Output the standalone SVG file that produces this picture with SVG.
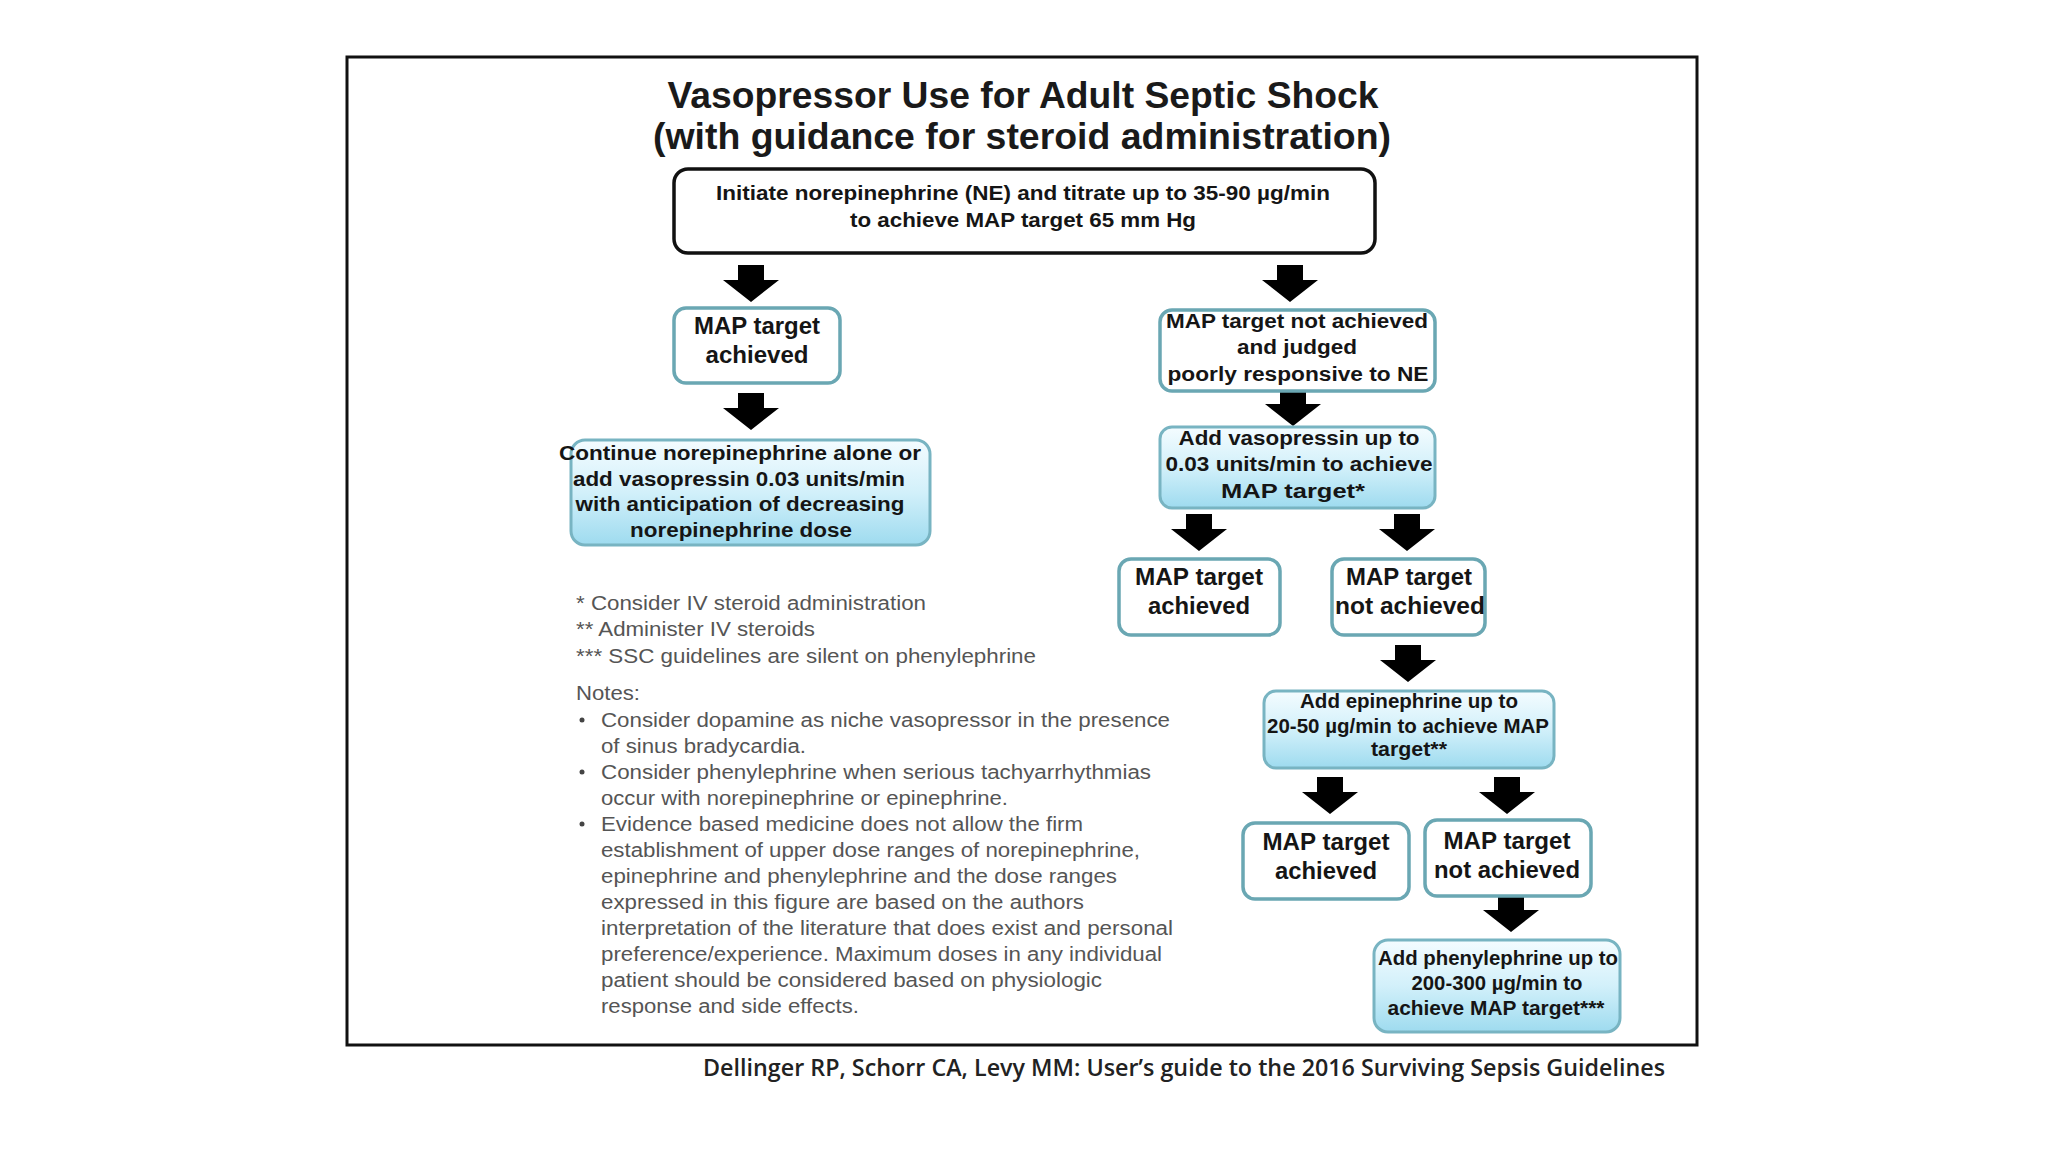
<svg xmlns="http://www.w3.org/2000/svg" xmlns:xlink="http://www.w3.org/1999/xlink" width="2048" height="1152" viewBox="0 0 2048 1152">
<defs>
<linearGradient id="blue" x1="0" y1="0" x2="0" y2="1">
<stop offset="0" stop-color="#f4fcff"/>
<stop offset="0.5" stop-color="#d2f0fa"/>
<stop offset="1" stop-color="#9edbef"/>
</linearGradient>
<path id="arrow" d="M-13,0 H13 V15 H28 L0,37 L-28,15 H-13 Z" fill="#000"/>
</defs>
<style>
.bx{fill:#fff;stroke:#6aa7b3;stroke-width:3.5}
.bb{fill:url(#blue);stroke:#78b4c2;stroke-width:3}
.t{font-family:"Liberation Sans",Arial,sans-serif;font-weight:bold;fill:#151515;text-anchor:middle}
.m{font-size:24px}
.s{font-size:20px}
.n{font-family:"Liberation Sans",Arial,sans-serif;font-size:20px;fill:#555}
.ti{font-family:"Liberation Sans",Arial,sans-serif;font-weight:bold;font-size:37px;fill:#1a1a1a;text-anchor:middle}
</style>
<rect width="2048" height="1152" fill="#fff"/>
<rect x="347" y="57" width="1350" height="988" fill="none" stroke="#111" stroke-width="3"/>

<g id="title">
<text class="ti" x="1023" y="108" textLength="711" lengthAdjust="spacingAndGlyphs">Vasopressor Use for Adult Septic Shock</text>
<text class="ti" x="1022" y="149" textLength="738" lengthAdjust="spacingAndGlyphs">(with guidance for steroid administration)</text>
</g>

<g id="connectors">
<use xlink:href="#arrow" x="751" y="265"/>
<use xlink:href="#arrow" x="751" y="393"/>
<use xlink:href="#arrow" x="1290" y="265"/>
<use xlink:href="#arrow" x="1293" y="389"/>
<use xlink:href="#arrow" x="1199" y="514"/>
<use xlink:href="#arrow" x="1407" y="514"/>
<use xlink:href="#arrow" x="1408" y="645"/>
<use xlink:href="#arrow" x="1330" y="777"/>
<use xlink:href="#arrow" x="1507" y="777"/>
<use xlink:href="#arrow" x="1511" y="895"/>
</g>

<g id="start">
<rect x="674" y="169" width="701" height="84" rx="14" fill="#fff" stroke="#111" stroke-width="3.5"/>
<text class="t s" x="1023" y="200" textLength="614" lengthAdjust="spacingAndGlyphs">Initiate norepinephrine (NE) and titrate up to 35-90 µg/min</text>
<text class="t s" x="1023" y="227" textLength="346" lengthAdjust="spacingAndGlyphs">to achieve MAP target 65 mm Hg</text>
</g>

<g id="map-achieved-1">
<rect class="bx" x="674" y="308" width="166" height="75" rx="12"/>
<text class="t m" x="757" y="334" textLength="126" lengthAdjust="spacingAndGlyphs">MAP target</text>
<text class="t m" x="757" y="363" textLength="103" lengthAdjust="spacingAndGlyphs">achieved</text>
</g>

<g id="continue-ne">
<rect class="bb" x="571" y="440" width="359" height="105" rx="14"/>
<text class="t s" x="740" y="460" textLength="362" lengthAdjust="spacingAndGlyphs">Continue norepinephrine alone or</text>
<text class="t s" x="739" y="486" textLength="332" lengthAdjust="spacingAndGlyphs">add vasopressin 0.03 units/min</text>
<text class="t s" x="740" y="511" textLength="329" lengthAdjust="spacingAndGlyphs">with anticipation of decreasing</text>
<text class="t s" x="741" y="537" textLength="222" lengthAdjust="spacingAndGlyphs">norepinephrine dose</text>
</g>

<g id="map-not-achieved-ne">
<rect class="bx" x="1160" y="310" width="275" height="81" rx="12"/>
<text class="t s" x="1297" y="328" textLength="262" lengthAdjust="spacingAndGlyphs">MAP target not achieved</text>
<text class="t s" x="1297" y="354" textLength="120" lengthAdjust="spacingAndGlyphs">and judged</text>
<text class="t s" x="1298" y="381" textLength="261" lengthAdjust="spacingAndGlyphs">poorly responsive to NE</text>
</g>

<g id="add-vasopressin">
<rect class="bb" x="1160" y="427" width="275" height="81" rx="12"/>
<text class="t s" x="1299" y="445" textLength="241" lengthAdjust="spacingAndGlyphs">Add vasopressin up to</text>
<text class="t s" x="1299" y="471" textLength="267" lengthAdjust="spacingAndGlyphs">0.03 units/min to achieve</text>
<text class="t s" x="1293" y="498" textLength="144" lengthAdjust="spacingAndGlyphs">MAP target*</text>
</g>

<g id="map-achieved-2">
<rect class="bx" x="1119" y="559" width="161" height="76" rx="12"/>
<text class="t m" x="1199" y="585" textLength="128" lengthAdjust="spacingAndGlyphs">MAP target</text>
<text class="t m" x="1199" y="614" textLength="102" lengthAdjust="spacingAndGlyphs">achieved</text>
</g>

<g id="map-not-achieved-2">
<rect class="bx" x="1332" y="559" width="153" height="76" rx="12"/>
<text class="t m" x="1409" y="585" textLength="126" lengthAdjust="spacingAndGlyphs">MAP target</text>
<text class="t m" x="1410" y="614" textLength="150" lengthAdjust="spacingAndGlyphs">not achieved</text>
</g>

<g id="add-epinephrine">
<rect class="bb" x="1264" y="691" width="290" height="77" rx="12"/>
<text class="t s" x="1409" y="708" textLength="218" lengthAdjust="spacingAndGlyphs">Add epinephrine up to</text>
<text class="t s" x="1408" y="733" textLength="282" lengthAdjust="spacingAndGlyphs">20-50 µg/min to achieve MAP</text>
<text class="t s" x="1409" y="756" textLength="76" lengthAdjust="spacingAndGlyphs">target**</text>
</g>

<g id="map-achieved-3">
<rect class="bx" x="1243" y="823" width="166" height="76" rx="12"/>
<text class="t m" x="1326" y="850" textLength="127" lengthAdjust="spacingAndGlyphs">MAP target</text>
<text class="t m" x="1326" y="879" textLength="102" lengthAdjust="spacingAndGlyphs">achieved</text>
</g>

<g id="map-not-achieved-3">
<rect class="bx" x="1425" y="820" width="166" height="76" rx="12"/>
<text class="t m" x="1507" y="849" textLength="127" lengthAdjust="spacingAndGlyphs">MAP target</text>
<text class="t m" x="1507" y="878" textLength="146" lengthAdjust="spacingAndGlyphs">not achieved</text>
</g>

<g id="add-phenylephrine">
<rect class="bb" x="1374" y="940" width="246" height="92" rx="14"/>
<text class="t s" x="1498" y="965" textLength="240" lengthAdjust="spacingAndGlyphs">Add phenylephrine up to</text>
<text class="t s" x="1497" y="990" textLength="171" lengthAdjust="spacingAndGlyphs">200-300 µg/min to</text>
<text class="t s" x="1496" y="1015" textLength="217" lengthAdjust="spacingAndGlyphs">achieve MAP target***</text>
</g>

<g id="footnotes">
<text class="n" x="576" y="610" textLength="350" lengthAdjust="spacingAndGlyphs">* Consider IV steroid administration</text>
<text class="n" x="576" y="636" textLength="239" lengthAdjust="spacingAndGlyphs">** Administer IV steroids</text>
<text class="n" x="576" y="663" textLength="460" lengthAdjust="spacingAndGlyphs">*** SSC guidelines are silent on phenylephrine</text>
</g>

<g id="notes">
<text class="n" x="576" y="700" textLength="64" lengthAdjust="spacingAndGlyphs">Notes:</text>
<circle cx="582" cy="720" r="2.5" fill="#444"/>
<circle cx="582" cy="772" r="2.5" fill="#444"/>
<circle cx="582" cy="824" r="2.5" fill="#444"/>
<text class="n" x="601" y="727" textLength="569" lengthAdjust="spacingAndGlyphs">Consider dopamine as niche vasopressor in the presence</text>
<text class="n" x="601" y="753" textLength="205" lengthAdjust="spacingAndGlyphs">of sinus bradycardia.</text>
<text class="n" x="601" y="779" textLength="550" lengthAdjust="spacingAndGlyphs">Consider phenylephrine when serious tachyarrhythmias</text>
<text class="n" x="601" y="805" textLength="407" lengthAdjust="spacingAndGlyphs">occur with norepinephrine or epinephrine.</text>
<text class="n" x="601" y="831" textLength="482" lengthAdjust="spacingAndGlyphs">Evidence based medicine does not allow the firm</text>
<text class="n" x="601" y="857" textLength="539" lengthAdjust="spacingAndGlyphs">establishment of upper dose ranges of norepinephrine,</text>
<text class="n" x="601" y="883" textLength="516" lengthAdjust="spacingAndGlyphs">epinephrine and phenylephrine and the dose ranges</text>
<text class="n" x="601" y="909" textLength="483" lengthAdjust="spacingAndGlyphs">expressed in this figure are based on the authors</text>
<text class="n" x="601" y="935" textLength="572" lengthAdjust="spacingAndGlyphs">interpretation of the literature that does exist and personal</text>
<text class="n" x="601" y="961" textLength="561" lengthAdjust="spacingAndGlyphs">preference/experience. Maximum doses in any individual</text>
<text class="n" x="601" y="987" textLength="501" lengthAdjust="spacingAndGlyphs">patient should be considered based on physiologic</text>
<text class="n" x="601" y="1013" textLength="258" lengthAdjust="spacingAndGlyphs">response and side effects.</text>
</g>

<g id="credit">
<text x="703" y="1076" font-family="'Open Sans','Liberation Sans',sans-serif" font-size="23" font-weight="600" fill="#222" textLength="962" lengthAdjust="spacingAndGlyphs">Dellinger RP, Schorr CA, Levy MM: User’s guide to the 2016 Surviving Sepsis Guidelines</text>
</g>
</svg>
